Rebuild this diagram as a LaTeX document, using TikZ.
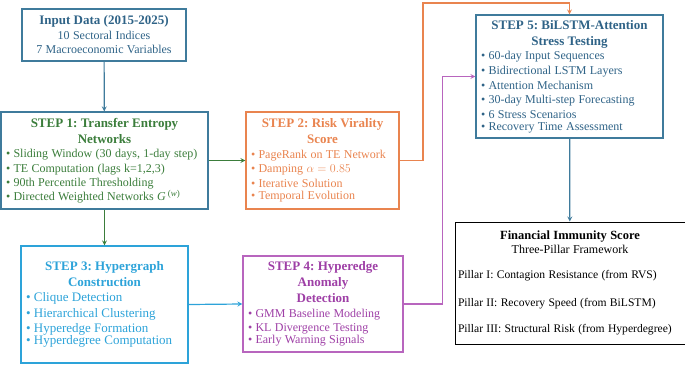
\documentclass[tikz,border=0pt]{standalone}
\usepackage{fontspec}
\setmainfont{Liberation Serif}
\usepackage{tikz}
\definecolor{cinp}{HTML}{2F6387}
\definecolor{cinpl}{HTML}{3F7B9C}
\definecolor{cgrn}{HTML}{3B7D3B}
\definecolor{corg}{HTML}{E9844F}
\definecolor{ccyn}{HTML}{2DA3D9}
\definecolor{cprp}{HTML}{9E3FA6}
\definecolor{cprpl}{HTML}{B865BE}
\newcommand{\ttl}[1]{{\centering\bfseries\fontsize{13}{16}\selectfont #1\par}}
\newcommand{\bodyfont}{\rmfamily\fontsize{12}{14.5}\selectfont}

\begin{document}
\frenchspacing
\begin{tikzpicture}[x=1pt,y=-1pt,>=stealth,
  stepbox/.style={draw,line width=1.2pt,inner xsep=5pt,inner ysep=2pt,align=left},
  link/.style={->,line width=1.2pt}]
  \useasboundingbox (0,0) rectangle (685,364);
  \node[stepbox,draw=cinpl,text=cinp,minimum width=164pt,minimum height=52pt,text width=154pt] (inp) at (104,35)
    {\ttl{Input Data (2015-2025)}{\centering\bodyfont 10 Sectoral Indices\\ 7 Macroeconomic Variables\par}};
  \node[stepbox,draw=cinpl,text=cgrn,minimum width=205pt,minimum height=97pt,text width=197pt] (st1) at (104.5,160.5)
    {\ttl{STEP 1: Transfer Entropy\\ Networks}\raggedright\bodyfont
     \textbullet{} Sliding Window (30 days, 1-day step)\\
     \textbullet{} TE Computation (lags k=1,2,3)\\
     \textbullet{} 90th Percentile Thresholding\\
     \textbullet{} Directed Weighted Networks \textit{G}\,\raisebox{4pt}{\fontsize{9}{9}\selectfont(\textit{w})}};
  \node[stepbox,draw=corg,text=corg,minimum width=151pt,minimum height=97pt,text width=143pt] (st2) at (322.5,160.5)
    {\ttl{STEP 2: Risk Virality\\ Score}\raggedright\bodyfont
     \textbullet{} PageRank on TE Network\\
     \textbullet{} Damping $\alpha = 0.85$\\
     \textbullet{} Iterative Solution\\
     \textbullet{} Temporal Evolution};
  \node[stepbox,draw=ccyn,text=ccyn,minimum width=165pt,minimum height=117pt,text width=157pt] (st3) at (104.5,304.5)
    {\ttl{STEP 3: Hypergraph\\ Construction}\raggedright\rmfamily\fontsize{13}{15.5}\selectfont
     \textbullet{} Clique Detection\\
     \textbullet{} Hierarchical Clustering\\
     \textbullet{} Hyperedge Formation\\
     \textbullet{} Hyperdegree Computation};
  \node[stepbox,draw=cprpl,text=cprp,minimum width=158pt,minimum height=96pt,text width=150pt] (st4) at (323,304)
    {\ttl{STEP 4: Hyperedge\\ Anomaly\\ Detection}\raggedright\bodyfont
     \textbullet{} GMM Baseline Modeling\\
     \textbullet{} KL Divergence Testing\\
     \textbullet{} Early Warning Signals};
  \node[stepbox,draw=cinpl,text=cinp,minimum width=185pt,minimum height=123pt,text width=177pt] (st5) at (569.5,76.5)
    {\ttl{STEP 5: BiLSTM-Attention\\ Stress Testing}\raggedright\rmfamily\fontsize{12}{14.6}\selectfont
     \textbullet{} 60-day Input Sequences\\
     \textbullet{} Bidirectional LSTM Layers\\
     \textbullet{} Attention Mechanism\\
     \textbullet{} 30-day Multi-step Forecasting\\
     \textbullet{} 6 Stress Scenarios\\
     \textbullet{} Recovery Time Assessment};
  \node[stepbox,draw=black,text=black,line width=1pt,inner xsep=3pt,minimum width=228pt,minimum height=122pt,text width=224pt] (fis) at (570,283)
    {{\centering\bfseries\fontsize{12.5}{13}\selectfont Financial Immunity Score\par}
     {\centering\bodyfont Three-Pillar Framework\par}\raggedright\rmfamily\fontsize{11.6}{14}\selectfont
     \vspace{11pt}Pillar I: Contagion Resistance (from RVS)\\[14pt]
     Pillar II: Recovery Speed (from BiLSTM)\\[14pt]
     \mbox{Pillar III: Structural Risk (from Hyperdegree)}};
  % connectors
  \draw[link,cinpl] (inp) -- (st1);
  \draw[link,cgrn] (st1) -- (st2);
  \draw[link,cgrn] (st1) -- (st3);
  \draw[link,ccyn] (st3.east) -- (st4.west);
  \coordinate (o1) at (423,3);
  \draw[link,corg] (st2.east) -| (o1) -| (st5.north);
  \draw[link,cprpl] (st4.east) -- ++(39,0) |- (st5.west);
  \draw[link,cinpl] (st5) -- (fis);
\end{tikzpicture}
\end{document}
